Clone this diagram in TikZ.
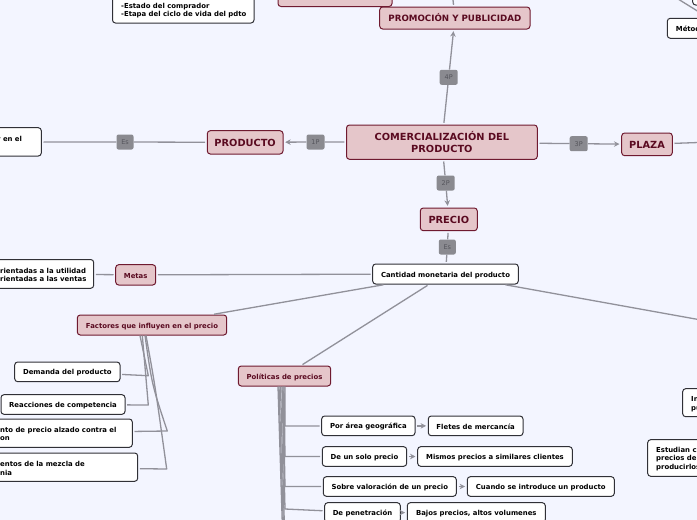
\documentclass[tikz,border=0pt]{standalone}
\usepackage{fontspec}
\setmainfont{DejaVu Sans}
\usetikzlibrary{arrows.meta,calc}
\definecolor{bgc}{HTML}{F3F5FF}
\definecolor{pinkf}{HTML}{E5C6CA}
\definecolor{pinkd}{HTML}{6F1A30}
\definecolor{pinkt}{HTML}{5A0A20}
\definecolor{linec}{HTML}{91919A}
\definecolor{labf}{HTML}{8A8A90}
\definecolor{labt}{HTML}{55555C}
\definecolor{boxd}{HTML}{303036}
\tikzset{
  wbox/.style={draw=boxd,fill=white,line width=1pt,rounded corners=3pt,inner sep=0pt,text=black,align=center,execute at begin node={\rule{0pt}{7.6pt}},font=\fontsize{6.9}{8.4}\selectfont\bfseries},
  pbox/.style={draw=pinkd,fill=pinkf,line width=1pt,rounded corners=3pt,inner sep=0pt,text=pinkt,align=center,execute at begin node={\rule{0pt}{7.6pt}},font=\fontsize{6.9}{8.4}\selectfont\bfseries},
  pbig/.style={pbox,font=\fontsize{9.8}{12}\selectfont\bfseries},
  pmid/.style={pbox,font=\fontsize{8.7}{10}\selectfont\bfseries},
  tfrag/.style={anchor=west,inner sep=0pt,align=left,text=black,font=\fontsize{6.9}{8.4}\selectfont\bfseries},
  lab/.style={fill=labf,rounded corners=2pt,inner sep=0pt,minimum width=18pt,minimum height=15pt,text=labt,font=\fontsize{6.5}{8}\selectfont},
  conn/.style={draw=linec,line width=1.3pt},
  arr/.style={conn,-{Stealth[length=5.5pt,width=5.5pt]}},
  gapa/.style={shorten <=1.7pt},
  gapb/.style={shorten >=1.7pt},
}
\newcommand{\bx}[7]{%
  \pgfmathsetmacro{\bxw}{#5-#3}\pgfmathsetmacro{\bxh}{#6-#4}%
  \pgfmathsetmacro{\bxx}{(#3+#5)/2}\pgfmathsetmacro{\bxy}{(#4+#6)/2}%
  \node[#2,minimum width=\bxw pt,minimum height=\bxh pt] (#1) at (\bxx,\bxy) {#7};}
\begin{document}
\begin{tikzpicture}[x=1pt,y=-1pt]
\useasboundingbox (0,0) rectangle (697,520);
\clip (0,0) rectangle (697,520);
\fill[bgc] (0,0) rectangle (697,520);

% off-canvas ends
\coordinate (offplaza) at (740,141);
\coordinate (offcant) at (740,327);
\coordinate (offtr1) at (670,-6);
\coordinate (offtr2) at (720,25);
\coordinate (offpromo) at (452,-10);

% boxes
\bx{topl}{wbox}{112.5}{-20}{254}{23}{}
\node[tfrag] (toplt) at (121,10.3) {-Estado del comprador\\-Etapa del ciclo de vida del pdto};
\bx{toppink}{pbox}{278}{-20}{392}{6.5}{}
\bx{promo}{pmid}{379.7}{7}{530}{29}{PROMOCIÓN Y PUBLICIDAD}
\bx{cen}{pbig}{346.5}{125}{537.3}{159.3}{COMERCIALIZACIÓN DEL\\PRODUCTO}
\bx{prod}{pbig}{207.3}{130.7}{283}{154}{PRODUCTO}
\bx{plaza}{pbig}{621.7}{133}{672.3}{155.7}{PLAZA}
\bx{precio}{pbig}{420.3}{208}{477.3}{230.7}{PRECIO}
\bx{enel}{wbox}{-60}{127.7}{41.3}{156}{}
\node[tfrag] (enelt) at (-3,139.2) {r en el};
\bx{metodo}{wbox}{667.3}{18.3}{760}{38.3}{}
\node[tfrag] (metodot) at (675.7,29.2) {Método};
\bx{toprt}{wbox}{692.7}{-20}{760}{5}{}
\bx{cant}{wbox}{372.7}{264}{518.3}{284}{Cantidad monetaria del producto}
\bx{metas}{pbox}{115.7}{264.7}{155.7}{285}{Metas}
\bx{orient}{wbox}{-60}{259.5}{93.7}{288.3}{}
\node[tfrag] (orientt) at (0,275.2) {rientadas a la utilidad\\rientadas a las ventas};
\bx{fact}{pbox}{77.3}{315}{226.7}{335}{Factores que influyen en el precio}
\bx{dem}{wbox}{14.7}{362}{120}{381.7}{Demanda del producto}
\bx{reac}{wbox}{1}{394.7}{125}{414.3}{Reacciones de competencia}
\bx{alz}{wbox}{-120}{419}{132.3}{447.3}{}
\node[tfrag] (alzt) at (0,434.2) {nto de precio alzado contra el\\on};
\bx{mez}{wbox}{-120}{453}{137.7}{481.3}{}
\node[tfrag] (mezt) at (0,468.3) {entos de la mezcla de\\nia};
\bx{pol}{pbox}{238.3}{366}{330.7}{386}{Políticas de precios}
\bx{area}{wbox}{321.7}{416}{415}{435.7}{Por área geográfica}
\bx{flet}{wbox}{428.3}{416}{523}{435.7}{Fletes de mercancía}
\bx{solo}{wbox}{322.3}{446.7}{406.7}{466.3}{De un solo precio}
\bx{mism}{wbox}{417.7}{446.7}{572.3}{466.3}{Mismos precios a similares clientes}
\bx{sobre}{wbox}{323.3}{476.7}{456.3}{496.3}{Sobre valoración de un precio}
\bx{cuan}{wbox}{467.3}{476.7}{614.3}{496.3}{Cuando se introduce un producto}
\bx{pene}{wbox}{324.7}{502.7}{400.3}{522.5}{De penetración}
\bx{bajo}{wbox}{407.3}{502.7}{545.3}{522.5}{Bajos precios, altos volumenes}
\bx{inp}{wbox}{682.7}{388.7}{760}{416.7}{}
\node[tfrag] (inpt) at (691,404) {In\\pu};
\bx{est}{wbox}{647.7}{439.7}{760}{476.3}{}
\node[tfrag] (estt) at (656,459) {Estudian c\\precios de\\producirlos};

% labels
\node[lab,minimum width=17pt] (les) at (125,142) {Es};
\node[lab] (l1) at (315.5,142) {1P};
\node[lab] (l4) at (448.7,77.3) {4P};
\node[lab] (l3) at (578.7,143.7) {3P};
\node[lab] (l2) at (445.7,183) {2P};
\node[lab,minimum width=17pt] (les2) at (447.3,247) {Es};

% connectors
\draw[conn,gapa] (cen) -- (l4);
\draw[arr,gapb] (l4) -- (promo);
\draw[conn,gapa] (promo) -- (offpromo);
\draw[conn,gapa] (cen) -- (l1);
\draw[arr,gapb] (l1) -- (prod);
\draw[conn,gapa] (prod) -- (les);
\draw[conn,gapb] (les) -- (enel);
\draw[conn,gapa] (cen) -- (l3);
\draw[arr,gapb] (l3) -- (plaza);
\draw[conn,gapa] (plaza) -- (offplaza);
\draw[conn,gapa] (cen) -- (l2);
\draw[arr,gapb] (l2) -- (precio);
\draw[conn,gapa] (precio) -- (les2);
\draw[conn,gapb] (les2) -- (cant);
\draw[conn,gapa,gapb] (cant) -- (metas);
\draw[conn,gapa,gapb] (metas) -- (orient);
\draw[conn,gapa,gapb] (cant) -- (fact);
\draw[conn,gapa,gapb] (cant) -- (pol);
\draw[conn,gapa] (cant) -- (offcant);
\draw[conn] (offtr1) -- (offtr2);
\draw[arr,gapa,gapb] (area) -- (flet);
\draw[arr,gapa,gapb] (solo) -- (mism);
\draw[arr,gapa,gapb] (sobre) -- (cuan);
\draw[arr,gapa,gapb] (pene) -- (bajo);

% Factores fan
\coordinate (fa) at (140,335.5);
\coordinate (fb) at (142.3,335.5);
\coordinate (fc) at (145,335.5);
\coordinate (fd) at (146,335.5);
\coordinate (ea) at (148.3,375.7);
\coordinate (eb) at (148.3,405);
\coordinate (ec) at (167.3,431);
\coordinate (ed) at (166.7,469);
\begin{scope}[gapb,line join=round]
\draw[conn] (fa) -- (ea) -- (dem);
\draw[conn] (fb) -- (eb) -- (reac);
\draw[conn] (fc) .. controls (152,385) .. (ec) -- (alz);
\draw[conn] (fd) .. controls (155,385) .. (ed) -- (mez);
\end{scope}

% Politicas fan
\coordinate (pa) at (285,386.5);
\coordinate (pb) at (284,386.5);
\coordinate (pc) at (283,386.5);
\coordinate (pd) at (282,386.5);
\coordinate (pe) at (280.5,386.5);
\coordinate (pf) at (279,386.5);
\coordinate (pg) at (278,386.5);
\coordinate (ga) at (285,426);
\coordinate (gb) at (285,456.5);
\coordinate (gc) at (285,486.5);
\coordinate (gd) at (285,509);
\coordinate (ge) at (284.5,530);
\coordinate (gf) at (283.5,530);
\coordinate (gg) at (282.5,530);
\begin{scope}[gapb,line join=round]
\draw[conn] (pa) -- (ga) -- (area);
\draw[conn] (pb) -- (gb) -- (solo);
\draw[conn] (pc) -- (gc) -- (sobre);
\draw[conn] (pd) -- (gd) -- (pene);
\end{scope}
\draw[conn] (pe) -- (ge);
\draw[conn] (pf) -- (gf);
\draw[conn] (pg) -- (gg);
\end{tikzpicture}
\end{document}
